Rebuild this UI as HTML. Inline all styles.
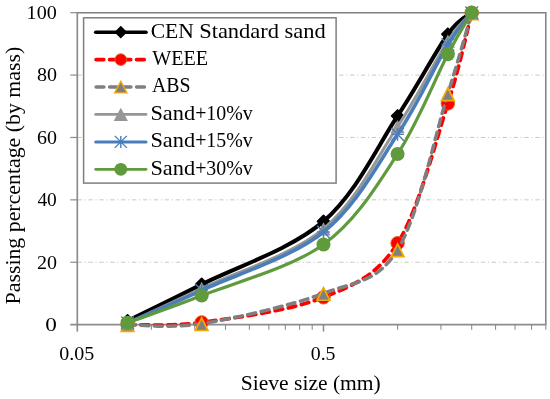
<!DOCTYPE html>
<html lang="en"><head><meta charset="utf-8"><title>Sieve size chart</title>
<style>
html,body{margin:0;padding:0;background:#fff;}
body{width:550px;height:399px;overflow:hidden;font-family:'Liberation Serif',serif;}
svg{display:block;}
</style></head><body>
<svg width="550" height="399" viewBox="0 0 550 399">
<rect width="550" height="399" fill="#fff"/>
<line x1="77.50" x2="545.80" y1="262.22" y2="262.22" stroke="#c8c8c8" stroke-width="1" stroke-dasharray="4.4 2.7 1.1 2.7"/>
<line x1="77.50" x2="545.80" y1="199.84" y2="199.84" stroke="#c8c8c8" stroke-width="1" stroke-dasharray="4.4 2.7 1.1 2.7"/>
<line x1="77.50" x2="545.80" y1="137.46" y2="137.46" stroke="#c8c8c8" stroke-width="1" stroke-dasharray="4.4 2.7 1.1 2.7"/>
<line x1="77.50" x2="545.80" y1="75.08" y2="75.08" stroke="#c8c8c8" stroke-width="1" stroke-dasharray="4.4 2.7 1.1 2.7"/>
<path d="M77.30 12.70 H545.80 V324.60" fill="none" stroke="#808080" stroke-width="1.5"/>
<path d="M77.30 12.10 V331.60" fill="none" stroke="#8c8c8c" stroke-width="1.7"/>
<path d="M70.30 324.60 H546.40" fill="none" stroke="#8c8c8c" stroke-width="1.7"/>
<line x1="70.30" x2="77.30" y1="262.22" y2="262.22" stroke="#8c8c8c" stroke-width="1.2"/>
<line x1="70.30" x2="77.30" y1="199.84" y2="199.84" stroke="#8c8c8c" stroke-width="1.2"/>
<line x1="70.30" x2="77.30" y1="137.46" y2="137.46" stroke="#8c8c8c" stroke-width="1.2"/>
<line x1="70.30" x2="77.30" y1="75.08" y2="75.08" stroke="#8c8c8c" stroke-width="1.2"/>
<line x1="70.30" x2="77.30" y1="12.70" y2="12.70" stroke="#8c8c8c" stroke-width="1.2"/>
<line x1="323.48" x2="323.48" y1="324.60" y2="331.60" stroke="#8c8c8c" stroke-width="1.5"/>
<line x1="151.41" x2="151.41" y1="324.60" y2="329.80" stroke="#8c8c8c" stroke-width="1.1"/>
<line x1="397.59" x2="397.59" y1="324.60" y2="329.80" stroke="#8c8c8c" stroke-width="1.1"/>
<line x1="194.76" x2="194.76" y1="324.60" y2="329.80" stroke="#8c8c8c" stroke-width="1.1"/>
<line x1="440.94" x2="440.94" y1="324.60" y2="329.80" stroke="#8c8c8c" stroke-width="1.1"/>
<line x1="225.51" x2="225.51" y1="324.60" y2="329.80" stroke="#8c8c8c" stroke-width="1.1"/>
<line x1="471.69" x2="471.69" y1="324.60" y2="329.80" stroke="#8c8c8c" stroke-width="1.1"/>
<line x1="249.37" x2="249.37" y1="324.60" y2="329.80" stroke="#8c8c8c" stroke-width="1.1"/>
<line x1="495.55" x2="495.55" y1="324.60" y2="329.80" stroke="#8c8c8c" stroke-width="1.1"/>
<line x1="268.86" x2="268.86" y1="324.60" y2="329.80" stroke="#8c8c8c" stroke-width="1.1"/>
<line x1="515.04" x2="515.04" y1="324.60" y2="329.80" stroke="#8c8c8c" stroke-width="1.1"/>
<line x1="285.35" x2="285.35" y1="324.60" y2="329.80" stroke="#8c8c8c" stroke-width="1.1"/>
<line x1="531.52" x2="531.52" y1="324.60" y2="329.80" stroke="#8c8c8c" stroke-width="1.1"/>
<line x1="299.62" x2="299.62" y1="324.60" y2="329.80" stroke="#8c8c8c" stroke-width="1.1"/>
<line x1="545.80" x2="545.80" y1="324.60" y2="329.80" stroke="#8c8c8c" stroke-width="1.1"/>
<line x1="312.21" x2="312.21" y1="324.60" y2="329.80" stroke="#8c8c8c" stroke-width="1.1"/>
<path d="M127.55 320.86 C139.90 314.78 169.00 300.95 201.66 284.36 C234.31 267.78 290.82 249.43 323.48 221.36 C356.13 193.29 376.86 147.13 397.59 115.94 C418.31 84.75 435.48 51.43 447.84 34.22 C460.19 17.01 467.72 16.29 471.69 12.70" fill="none" stroke="#000000" stroke-width="4.00" stroke-linecap="round" stroke-linejoin="round"/>
<path d="M127.55 314.96 L133.45 320.86 L127.55 326.76 L121.65 320.86Z" fill="#000" stroke="#000" stroke-width="1.80" stroke-linejoin="round"/>
<path d="M201.66 278.46 L207.56 284.36 L201.66 290.26 L195.76 284.36Z" fill="#000" stroke="#000" stroke-width="1.80" stroke-linejoin="round"/>
<path d="M323.48 215.46 L329.38 221.36 L323.48 227.26 L317.58 221.36Z" fill="#000" stroke="#000" stroke-width="1.80" stroke-linejoin="round"/>
<path d="M397.59 110.04 L403.49 115.94 L397.59 121.84 L391.69 115.94Z" fill="#000" stroke="#000" stroke-width="1.80" stroke-linejoin="round"/>
<path d="M447.84 28.32 L453.74 34.22 L447.84 40.12 L441.94 34.22Z" fill="#000" stroke="#000" stroke-width="1.80" stroke-linejoin="round"/>
<path d="M471.69 6.80 L477.59 12.70 L471.69 18.60 L465.79 12.70Z" fill="#000" stroke="#000" stroke-width="1.80" stroke-linejoin="round"/>
<path d="M127.55 324.60 C139.90 324.24 169.00 326.97 201.66 322.42 C234.31 317.87 290.82 310.51 323.48 297.31 C356.13 284.10 376.86 275.50 397.59 243.19 C418.31 210.89 435.48 141.88 447.84 103.46 C460.19 65.05 467.72 27.83 471.69 12.70" fill="none" stroke="#ff0000" stroke-width="3.80" stroke-linecap="round" stroke-linejoin="round" stroke-dasharray="7.6 5.9"/>
<circle cx="127.55" cy="324.60" r="6.70" fill="#ff0000" stroke="#d9661a" stroke-width="1.00"/>
<circle cx="201.66" cy="322.42" r="6.70" fill="#ff0000" stroke="#d9661a" stroke-width="1.00"/>
<circle cx="323.48" cy="297.31" r="6.70" fill="#ff0000" stroke="#d9661a" stroke-width="1.00"/>
<circle cx="397.59" cy="243.19" r="6.70" fill="#ff0000" stroke="#d9661a" stroke-width="1.00"/>
<circle cx="447.84" cy="103.46" r="6.70" fill="#ff0000" stroke="#d9661a" stroke-width="1.00"/>
<circle cx="471.69" cy="12.70" r="6.70" fill="#ff0000" stroke="#d9661a" stroke-width="1.00"/>
<path d="M127.55 324.60 C139.90 324.44 169.00 328.86 201.66 323.66 C234.31 318.47 290.82 305.73 323.48 293.41 C356.13 281.09 376.86 283.01 397.59 249.74 C418.31 216.47 435.48 133.30 447.84 93.79 C460.19 54.29 467.72 26.22 471.69 12.70" fill="none" stroke="#7f7f7f" stroke-width="3.50" stroke-linecap="round" stroke-linejoin="round" stroke-dasharray="7.8 5.7"/>
<path d="M127.55 318.80 L133.87 331.45 L121.23 331.45Z" fill="#7f7f7f" stroke="#f0a90a" stroke-width="1.70" stroke-linejoin="miter"/>
<path d="M201.66 317.86 L207.98 330.51 L195.33 330.51Z" fill="#7f7f7f" stroke="#f0a90a" stroke-width="1.70" stroke-linejoin="miter"/>
<path d="M323.48 287.61 L329.80 300.26 L317.15 300.26Z" fill="#7f7f7f" stroke="#f0a90a" stroke-width="1.70" stroke-linejoin="miter"/>
<path d="M397.59 243.94 L403.91 256.59 L391.26 256.59Z" fill="#7f7f7f" stroke="#f0a90a" stroke-width="1.70" stroke-linejoin="miter"/>
<path d="M447.84 87.99 L454.16 100.64 L441.51 100.64Z" fill="#7f7f7f" stroke="#f0a90a" stroke-width="1.70" stroke-linejoin="miter"/>
<path d="M471.69 6.90 L478.02 19.55 L465.37 19.55Z" fill="#7f7f7f" stroke="#f0a90a" stroke-width="1.70" stroke-linejoin="miter"/>
<path d="M127.55 323.04 C139.90 317.27 169.00 304.12 201.66 288.42 C234.31 272.72 290.82 255.83 323.48 228.85 C356.13 201.87 376.86 157.84 397.59 126.54 C418.31 95.25 435.48 60.06 447.84 41.08 C460.19 22.11 467.72 17.43 471.69 12.70" fill="none" stroke="#969696" stroke-width="3.00" stroke-linecap="round" stroke-linejoin="round"/>
<path d="M127.55 316.44 L134.65 329.64 L120.45 329.64Z" fill="#969696"/>
<path d="M201.66 281.82 L208.76 295.02 L194.56 295.02Z" fill="#969696"/>
<path d="M323.48 222.25 L330.58 235.45 L316.38 235.45Z" fill="#969696"/>
<path d="M397.59 119.94 L404.69 133.14 L390.49 133.14Z" fill="#969696"/>
<path d="M447.84 34.48 L454.94 47.68 L440.74 47.68Z" fill="#969696"/>
<path d="M471.69 6.10 L478.79 19.30 L464.59 19.30Z" fill="#969696"/>
<path d="M127.55 322.73 C139.90 317.32 169.00 305.42 201.66 290.29 C234.31 275.16 290.82 257.96 323.48 231.97 C356.13 205.97 376.86 165.58 397.59 134.34 C418.31 103.10 435.48 64.79 447.84 44.51 C460.19 24.24 467.72 18.00 471.69 12.70" fill="none" stroke="#4a7ebb" stroke-width="3.60" stroke-linecap="round" stroke-linejoin="round"/>
<path d="M127.55 316.43 V329.03 M121.25 316.43 L133.85 329.03 M121.25 329.03 L133.85 316.43 M121.25 322.73 H133.85" stroke="#4a7ebb" stroke-width="1.40" fill="none"/>
<path d="M201.66 283.99 V296.59 M195.36 283.99 L207.96 296.59 M195.36 296.59 L207.96 283.99 M195.36 290.29 H207.96" stroke="#4a7ebb" stroke-width="1.40" fill="none"/>
<path d="M323.48 225.67 V238.27 M317.18 225.67 L329.78 238.27 M317.18 238.27 L329.78 225.67 M317.18 231.97 H329.78" stroke="#4a7ebb" stroke-width="1.40" fill="none"/>
<path d="M397.59 128.04 V140.64 M391.29 128.04 L403.89 140.64 M391.29 140.64 L403.89 128.04 M391.29 134.34 H403.89" stroke="#4a7ebb" stroke-width="1.40" fill="none"/>
<path d="M447.84 38.21 V50.81 M441.54 38.21 L454.14 50.81 M441.54 50.81 L454.14 38.21 M441.54 44.51 H454.14" stroke="#4a7ebb" stroke-width="1.40" fill="none"/>
<path d="M471.69 6.40 V19.00 M465.39 6.40 L477.99 19.00 M465.39 19.00 L477.99 6.40 M465.39 12.70 H477.99" stroke="#4a7ebb" stroke-width="1.40" fill="none"/>
<path d="M127.55 322.73 C139.90 318.21 169.00 308.64 201.66 295.59 C234.31 282.55 290.82 268.04 323.48 244.44 C356.13 220.84 376.86 185.70 397.59 153.99 C418.31 122.28 435.48 77.73 447.84 54.18 C460.19 30.63 467.72 19.61 471.69 12.70" fill="none" stroke="#5f9a3c" stroke-width="3.20" stroke-linecap="round" stroke-linejoin="round"/>
<circle cx="127.55" cy="322.73" r="7.00" fill="#5f9a3c"/>
<circle cx="201.66" cy="295.59" r="7.00" fill="#5f9a3c"/>
<circle cx="323.48" cy="244.44" r="7.00" fill="#5f9a3c"/>
<circle cx="397.59" cy="153.99" r="7.00" fill="#5f9a3c"/>
<circle cx="447.84" cy="54.18" r="7.00" fill="#5f9a3c"/>
<circle cx="471.69" cy="12.70" r="7.00" fill="#5f9a3c"/>
<rect x="83.60" y="17.80" width="252.50" height="165.30" fill="#fff" stroke="#7f7f7f" stroke-width="1.5"/>
<line x1="95.70" x2="146.00" y1="32.20" y2="32.20" stroke="#000000" stroke-width="3.60" stroke-linecap="round"/>
<path d="M120.80 25.80 L127.20 32.20 L120.80 38.60 L114.40 32.20Z" fill="#000" stroke="#000" stroke-width="0.00" stroke-linejoin="round"/>
<text x="150.65" y="37.60" font-family="'Liberation Serif', serif" font-size="20.40" fill="#000" xml:space="preserve"><tspan textLength="48.51" lengthAdjust="spacingAndGlyphs">CEN </tspan><tspan textLength="126.62" lengthAdjust="spacingAndGlyphs">Standard sand</tspan></text>
<line x1="96.10" x2="146.00" y1="59.62" y2="59.62" stroke="#ff0000" stroke-width="3.80" stroke-linecap="round" stroke-dasharray="7.6 5.9"/>
<circle cx="120.80" cy="59.62" r="5.80" fill="#ff0000" stroke="#d9661a" stroke-width="1.00"/>
<text x="152.15" y="65.02" font-family="'Liberation Serif', serif" font-size="20.40" fill="#000" textLength="55.97" lengthAdjust="spacingAndGlyphs">WEEE</text>
<line x1="96.10" x2="146.00" y1="87.04" y2="87.04" stroke="#7f7f7f" stroke-width="3.50" stroke-linecap="round" stroke-dasharray="7.8 5.7"/>
<path d="M120.80 81.24 L126.90 92.84 L114.70 92.84Z" fill="#7f7f7f" stroke="#f0a90a" stroke-width="1.40" stroke-linejoin="miter"/>
<text x="151.90" y="92.44" font-family="'Liberation Serif', serif" font-size="20.40" fill="#000" textLength="38.55" lengthAdjust="spacingAndGlyphs">ABS</text>
<line x1="95.70" x2="146.00" y1="114.46" y2="114.46" stroke="#969696" stroke-width="2.80" stroke-linecap="round"/>
<path d="M120.80 107.86 L127.90 121.06 L113.70 121.06Z" fill="#969696"/>
<text x="150.45" y="119.86" font-family="'Liberation Serif', serif" font-size="20.40" fill="#000" xml:space="preserve"><tspan textLength="44.69" lengthAdjust="spacingAndGlyphs">Sand</tspan><tspan textLength="57.57" lengthAdjust="spacingAndGlyphs">+10%v</tspan></text>
<line x1="95.70" x2="146.00" y1="141.88" y2="141.88" stroke="#4a7ebb" stroke-width="3.00" stroke-linecap="round"/>
<path d="M120.80 135.88 V147.88 M114.80 135.88 L126.80 147.88 M114.80 147.88 L126.80 135.88 M114.80 141.88 H126.80" stroke="#4a7ebb" stroke-width="1.40" fill="none"/>
<text x="150.45" y="147.28" font-family="'Liberation Serif', serif" font-size="20.40" fill="#000" xml:space="preserve"><tspan textLength="44.69" lengthAdjust="spacingAndGlyphs">Sand</tspan><tspan textLength="57.57" lengthAdjust="spacingAndGlyphs">+15%v</tspan></text>
<line x1="95.70" x2="146.00" y1="169.30" y2="169.30" stroke="#5f9a3c" stroke-width="2.80" stroke-linecap="round"/>
<circle cx="120.80" cy="169.30" r="6.40" fill="#5f9a3c"/>
<text x="150.45" y="174.70" font-family="'Liberation Serif', serif" font-size="20.40" fill="#000" xml:space="preserve"><tspan textLength="44.69" lengthAdjust="spacingAndGlyphs">Sand</tspan><tspan textLength="57.57" lengthAdjust="spacingAndGlyphs">+30%v</tspan></text>
<text x="45.30" y="331.00" font-family="'Liberation Serif', serif" font-size="19.80" fill="#000" textLength="11.60" lengthAdjust="spacingAndGlyphs">0</text>
<text x="36.90" y="268.62" font-family="'Liberation Serif', serif" font-size="19.80" fill="#000" textLength="20.00" lengthAdjust="spacingAndGlyphs">20</text>
<text x="37.40" y="206.24" font-family="'Liberation Serif', serif" font-size="19.80" fill="#000" textLength="19.41" lengthAdjust="spacingAndGlyphs">40</text>
<text x="36.90" y="143.86" font-family="'Liberation Serif', serif" font-size="19.80" fill="#000" textLength="20.00" lengthAdjust="spacingAndGlyphs">60</text>
<text x="36.90" y="81.48" font-family="'Liberation Serif', serif" font-size="19.80" fill="#000" textLength="20.00" lengthAdjust="spacingAndGlyphs">80</text>
<text x="26.60" y="19.10" font-family="'Liberation Serif', serif" font-size="19.80" fill="#000" textLength="30.15" lengthAdjust="spacingAndGlyphs">100</text>
<text x="59.25" y="359.80" font-family="'Liberation Serif', serif" font-size="19.80" fill="#000" textLength="35.02" lengthAdjust="spacingAndGlyphs">0.05</text>
<text x="310.75" y="359.80" font-family="'Liberation Serif', serif" font-size="19.80" fill="#000" textLength="24.75" lengthAdjust="spacingAndGlyphs">0.5</text>
<text x="240.80" y="390.30" font-family="'Liberation Serif', serif" font-size="20.40" fill="#000" textLength="139.95" lengthAdjust="spacingAndGlyphs">Sieve size (mm)</text>
<text transform="translate(20.40 304.45) rotate(-90)" font-family="'Liberation Serif', serif" font-size="20.40" fill="#000" textLength="257.74" lengthAdjust="spacingAndGlyphs">Passing percentage (by mass)</text>
</svg>
</body></html>
